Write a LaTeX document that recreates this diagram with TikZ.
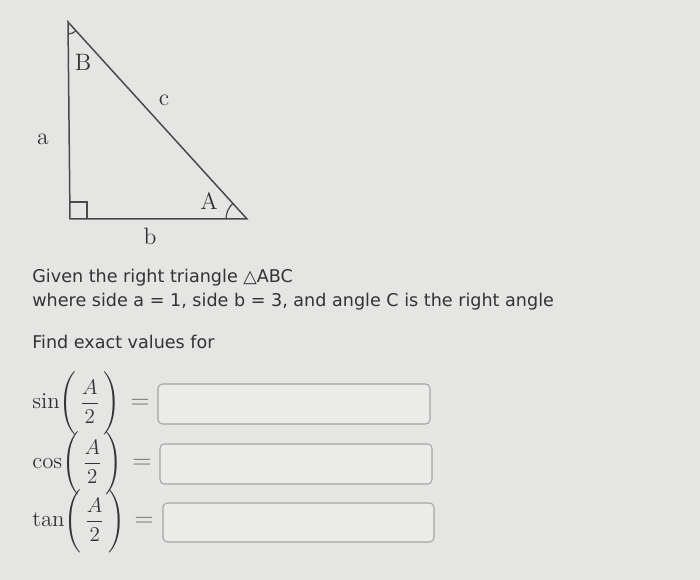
\documentclass[tikz,border=0pt]{standalone}
\usepackage{amsmath}
\usepackage{fontspec}
\newfontfamily\qfont{DejaVu Sans}
\usetikzlibrary{calc,angles}
\definecolor{screen}{HTML}{E5E5E3}
\definecolor{ink}{HTML}{333333}
\definecolor{edge}{HTML}{4A4A4A}
\definecolor{fieldfill}{HTML}{EBEBEA}
\definecolor{fieldline}{HTML}{A3A3A3}
\newcommand{\halfA}{\Biggl(\,\dfrac{A}{2}\,\Biggr)}
\begin{document}
\begin{tikzpicture}[x=0.02cm,y=-0.02cm]
            \fill [screen] (0,0) rectangle (700,580);
            \useasboundingbox (0,0) rectangle (700,580);

            % triangle
            \coordinate (B) at (68,22);
            \coordinate (C) at (70,219);
            \coordinate (A) at (247,219);
            \draw [edge, line width=0.85pt, line join=miter] (B) -- (C) -- (A) -- cycle;
            \draw [edge, line width=0.7pt] ($(C)+(0,-17)$) -| ($(C)+(17,0)$);
            \path (C) -- (B) -- (A) pic [draw=edge, line width=0.7pt, angle radius=0.24cm] {angle=C--B--A};
            \path (B) -- (A) -- (C) pic [draw=edge, line width=0.7pt, angle radius=0.42cm] {angle=B--A--C};

            \begin{scope}[every node/.style={inner sep=0pt,text=ink,font=\fontsize{13.5}{15}\selectfont}]
                \node (labB) at (83,62) {B};
                \node (labc) at (164,100) {c};
                \node (laba) at (43,139) {a};
                \node (labA) at (209,201) {A};
                \node (labb) at (150,236) {b};
            \end{scope}

            % question text
            \begin{scope}[every node/.style={anchor=base west,inner sep=0pt,text=ink,font=\qfont\fontsize{10}{12}\selectfont}]
                \node (given) at (32,283) {Given the right triangle △ABC};
                \node (where) at (32,307) {where side a = 1, side b = 3, and angle C is the right angle};
                \node (find) at (32,349) {Find exact values for};
            \end{scope}

            % answer rows
            \begin{scope}[every node/.style={anchor=base west,inner sep=0pt,text=ink,font=\fontsize{13}{16}\selectfont}]
                \node (sinA) at (32,409) {$\sin\halfA$};
                \node (cosA) at (32,469) {$\cos\halfA$};
                \node (tanA) at (32,527) {$\tan\halfA$};
            \end{scope}
            \begin{scope}[every node/.style={anchor=base,inner sep=0pt,text=ink!70,font=\fontsize{14}{17}\selectfont}]
                \node (eq1) at (140,409) {$=$};
                \node (eq2) at (142,469) {$=$};
                \node (eq3) at (144,527) {$=$};
            \end{scope}
            \begin{scope}[every path/.style={draw=fieldline,fill=fieldfill,line width=0.6pt,rounded corners=2.5pt}]
                \path (158,384) rectangle (430,424);
                \path (160,444) rectangle (432,484);
                \path (163,503) rectangle (434,542);
            \end{scope}
\end{tikzpicture}
\end{document}
